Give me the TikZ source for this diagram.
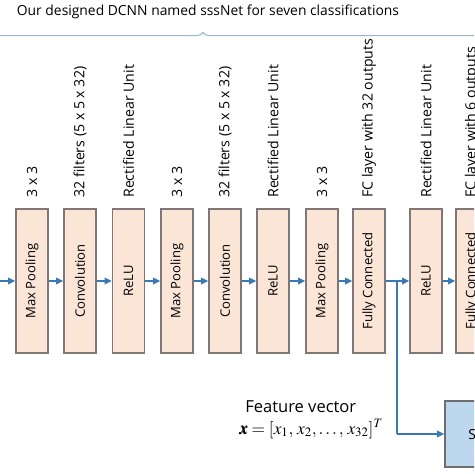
\documentclass[tikz,border=0pt]{standalone}
\usepackage{mathptmx}
\usepackage{bm}
\usepackage{fontspec}
\setmainfont{Open Sans}
\usetikzlibrary{arrows.meta,decorations.pathreplacing}

\tikzset{
  layer/.style={draw={rgb, 255:red, 128; green, 120; blue, 118 }, line width=1pt,
    fill={rgb, 255:red, 251; green, 229; blue, 214 }, rotate=90,
    minimum width=108pt, minimum height=24pt, inner sep=0pt, font=\fontsize{9.8}{11}\selectfont},
  note/.style={rotate=90, anchor=west, inner sep=0pt, font=\fontsize{10.6}{12}\selectfont},
  flow/.style={draw={rgb, 255:red, 58; green, 120; blue, 181 }, line width=1pt,
    -{Triangle[length=5.5pt,width=5pt]}},
  flowline/.style={draw={rgb, 255:red, 58; green, 120; blue, 181 }, line width=1pt},
}

\begin{document}
\begin{tikzpicture}[x=0.75pt,y=0.75pt,yscale=-1,xscale=1]
\clip (0,0) rectangle (474,474);

%Brace and title
\draw [color={rgb, 255:red, 150; green, 185; blue, 205 }, line width=0.8pt,
  decorate, decoration={brace, amplitude=5pt}] (-74,39) -- (480,39) ;
\node (title) [font=\fontsize{10.4}{12}\selectfont] at (208,12) {Our designed DCNN named sssNet for seven classifications};

%Shape: Rectangle (layers)
\node (pool1) [layer] at (32,281) {Max Pooling};
\node (conv1) [layer] at (80,281) {Convolution};
\node (relu1) [layer] at (128.5,281) {ReLU};
\node (pool2) [layer] at (177,281) {Max Pooling};
\node (conv2) [layer] at (225,281) {Convolution};
\node (relu2) [layer] at (273,281) {ReLU};
\node (pool3) [layer] at (322,281) {Max Pooling};
\node (fc1) [layer] at (369,281) {Fully Connected};
\node (relu3) [layer] at (426,281) {ReLU};
\node (fc2) [layer] at (472,281) {Fully Connected};

%Text (layer notes)
\node (npool1) [note] at (32,198) {3 x 3};
\node (nconv1) [note] at (80,198) {32 filters (5 x 5 x 32)};
\node (nrelu1) [note] at (128.5,198) {Rectified Linear Unit};
\node (npool2) [note] at (177,198) {3 x 3};
\node (nconv2) [note] at (225,198) {32 filters (5 x 5 x 32)};
\node (nrelu2) [note] at (273,198) {Rectified Linear Unit};
\node (npool3) [note] at (322,198) {3 x 3};
\node (nfc1) [note] at (369,198) {FC layer with 32 outputs};
\node (nrelu3) [note] at (426,198) {Rectified Linear Unit};
\node (nfc2) [note] at (472,198) {FC layer with 6 outputs};

%Shape: Rectangle (classifier)
\node (softmax) [draw={rgb, 255:red, 110; green, 110; blue, 110 }, line width=1pt,
  fill={rgb, 255:red, 189; green, 215; blue, 238 }, minimum width=75pt, minimum height=49.5pt,
  font=\fontsize{10.4}{12}\selectfont] at (495,434) {Softmax};

%Text (feature vector)
\node (featlab) [anchor=west, inner sep=0pt, font=\fontsize{12.4}{14}\selectfont] at (245,407) {Feature vector};
\node (featvec) [anchor=west, inner sep=0pt, font=\fontsize{13}{15}\selectfont] at (239,429) {$\bm{x} = [x_1,\, x_2,\ldots,\, x_{32}]^T$};

%Straight Lines
\coordinate (start) at (0,281);
\coordinate (split) at (397,281);
\coordinate (bend) at (397,434);
\draw [flow] (start) -- (pool1) ;
\draw [flow] (pool1) -- (conv1) ;
\draw [flow] (conv1) -- (relu1) ;
\draw [flow] (relu1) -- (pool2) ;
\draw [flow] (pool2) -- (conv2) ;
\draw [flow] (conv2) -- (relu2) ;
\draw [flow] (relu2) -- (pool3) ;
\draw [flow] (pool3) -- (fc1) ;
\draw [flow] (fc1) -- (relu3) ;
\draw [flow] (relu3) -- (fc2) ;
\draw [flowline] (split) -- (bend) ;
\draw [flow] (bend) -- (softmax) ;

\end{tikzpicture}
\end{document}
